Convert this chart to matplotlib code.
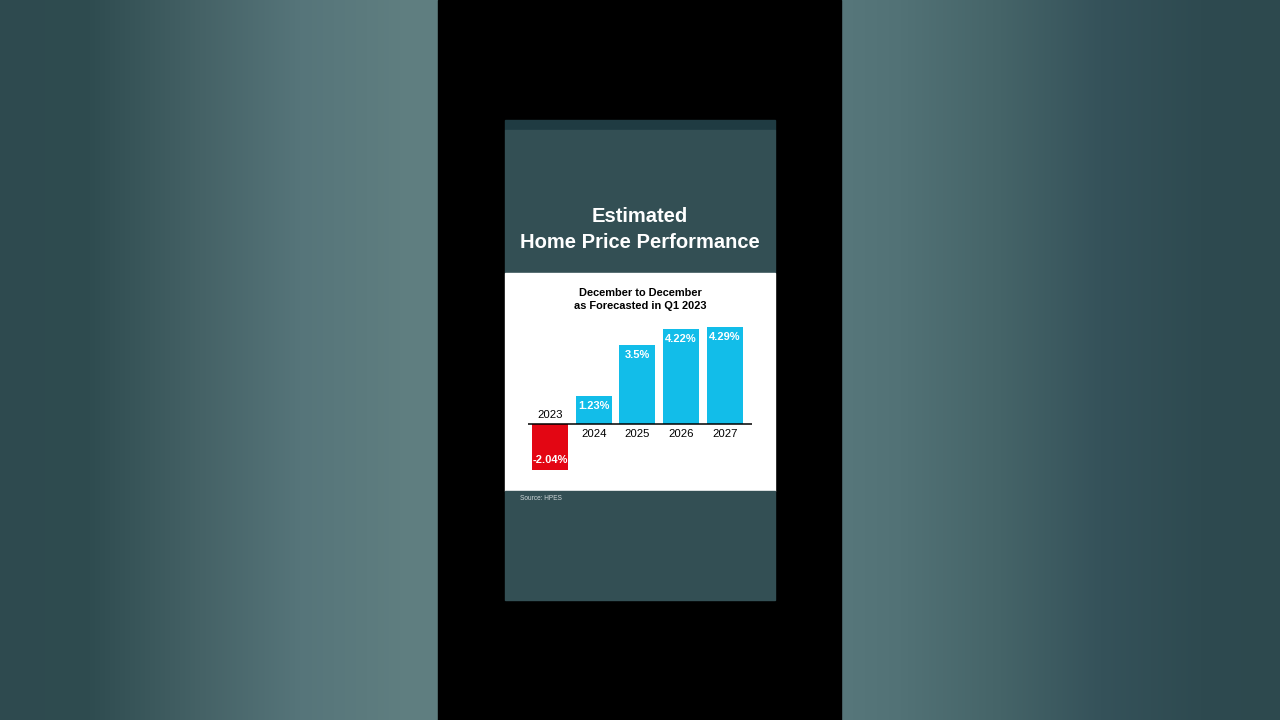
import numpy as np
import matplotlib
matplotlib.use("Agg")
import matplotlib.pyplot as plt
from matplotlib.patches import Rectangle
from matplotlib.colors import to_rgb

plt.rcParams["font.family"] = ["Liberation Sans", "DejaVu Sans"]

# chart data
years = ["2023", "2024", "2025", "2026", "2027"]
changes = [-2.04, 1.23, 3.5, 4.22, 4.29]
value_labels = ["-2.04%", "1.23%", "3.5%", "4.22%", "4.29%"]

title_lines = ["Estimated", "Home Price Performance"]
subtitle_lines = ["December to December", "as Forecasted in Q1 2023"]
source = "Source: HPES"

W, H = 1280, 720
PANEL = "#334f54"
STRIP = "#1f3b42"
CYAN = "#12bde9"
RED = "#e30613"


def px_box(x0, y0, x1, y1):
    """pixel box (top-left origin) -> figure fraction rect"""
    return [x0 / W, 1 - y1 / H, (x1 - x0) / W, (y1 - y0) / H]


fig = plt.figure(figsize=(W / 100, H / 100), dpi=100)

# blurred backdrop of the video frame
bg = fig.add_axes([0, 0, 1, 1])
bg.set_axis_off()
stops_x = [0, 90, 200, 300, 400, 440, 840, 900, 1000, 1100, 1200, 1280]
stops_c = ["#2e4a4f", "#2f4c50", "#456266", "#56757a", "#5f7e80", "#5f7e80",
           "#57777b", "#527276", "#456468", "#35525a", "#2e4a50", "#2d494e"]
cols = np.array([to_rgb(c) for c in stops_c])
xs = np.arange(W)
grad = np.stack([np.interp(xs, stops_x, cols[:, k]) for k in range(3)], axis=-1)
bg.imshow(np.repeat(grad[None, :, :], 8, axis=0), aspect="auto",
          extent=[0, W, H, 0])
bg.add_patch(Rectangle((438, 0), 403, H, color="black"))
# card pieces
bg.add_patch(Rectangle((505, 120), 270, 10, color=STRIP))
bg.add_patch(Rectangle((505, 130), 270, 143, color=PANEL))
bg.add_patch(Rectangle((505, 273), 270, 218, color="white"))
bg.add_patch(Rectangle((505, 491), 270, 109, color=PANEL))
bg.set_xlim(0, W)
bg.set_ylim(H, 0)

bg.text(640, 216, title_lines[0], color="white", fontsize=14.5,
        fontweight="bold", ha="center", va="center")
bg.text(640, 243, title_lines[1], color="white", fontsize=14.5,
        fontweight="bold", ha="center", va="center")
bg.text(640, 293, subtitle_lines[0], color="black", fontsize=7.9,
        fontweight="bold", ha="center", va="center")
bg.text(640, 306, subtitle_lines[1], color="black", fontsize=7.9,
        fontweight="bold", ha="center", va="center")
bg.text(520, 498, source, color="#d0d8da", fontsize=4.7, ha="left",
        va="center")

# bar chart
base_y = 424
scale = 22.5  # pixels per percentage point
top_px, bot_px = 310, 490
ax = fig.add_axes(px_box(528, top_px, 752, bot_px))
ax.set_axis_off()
ax.patch.set_alpha(0)
x = np.arange(len(years))
colors = [RED if v < 0 else CYAN for v in changes]
ax.bar(x, changes, width=0.82, color=colors)
ax.set_xlim(-0.5, len(years) - 0.38)
ax.set_ylim(-(bot_px - base_y) / scale, (base_y - top_px) / scale)
ax.axhline(0, color="black", linewidth=1.1)

lab_off = 10 / scale
yr_off = 10 / scale
for xi, v, lab, yr in zip(x, changes, value_labels, years):
    if v >= 0:
        ax.text(xi, v - lab_off, lab, color="white", fontsize=8.0,
                fontweight="bold", ha="center", va="center")
        ax.text(xi, -yr_off, yr, color="black", fontsize=8.2,
                ha="center", va="center")
    else:
        ax.text(xi, v + lab_off, lab, color="white", fontsize=8.0,
                fontweight="bold", ha="center", va="center")
        ax.text(xi, yr_off - 1 / scale, yr, color="black", fontsize=8.2,
                ha="center", va="center")

fig.savefig("out.png", dpi=100)
